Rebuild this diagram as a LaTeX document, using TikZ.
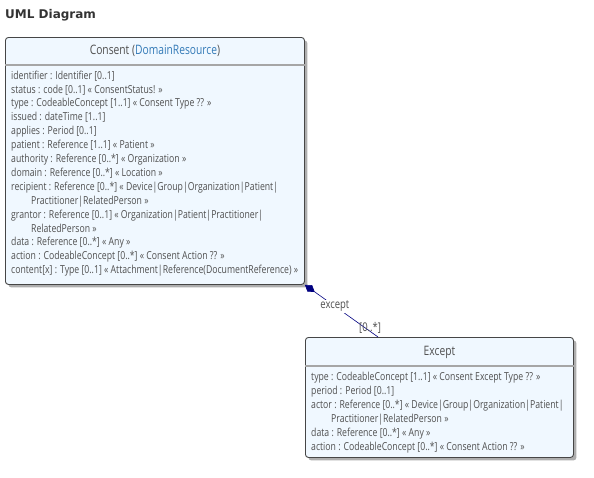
\documentclass[tikz,border=0pt]{standalone}
\usepackage{fontspec}
\setmainfont{Open Sans}[FakeStretch=0.79]
\newfontfamily\titlefont{DejaVu Sans}
\usetikzlibrary{arrows.meta,shadows,positioning}
\definecolor{boxfill}{RGB}{240,248,255}
\definecolor{boxline}{RGB}{70,70,70}
\definecolor{textgrey}{RGB}{80,80,80}
\definecolor{linkblue}{RGB}{51,122,183}
\definecolor{assocblue}{RGB}{0,0,128}

\tikzset{
  classbox/.style={draw=boxline, fill=boxfill, rounded corners=3pt, line width=0.9pt,
    drop shadow={shadow xshift=3pt, shadow yshift=-3pt, opacity=0.45, fill=black!70},
    anchor=north west, inner sep=0pt},
  classhead/.style={font=\fontsize{13}{15}\selectfont, text=textgrey, inner sep=0pt},
  attrs/.style={align=left, anchor=north west, inner sep=0pt,
    font=\fontsize{11}{13.9}\selectfont, text=textgrey},
  sepline/.style={draw=black!35, line width=1.2pt},
  assoc/.style={draw=assocblue, line width=0.6pt},
  rolelabel/.style={font=\fontsize{12}{14}\selectfont, text=textgrey, inner sep=1pt},
}

\begin{document}
\begin{tikzpicture}[x=1pt,y=-1pt]
\useasboundingbox (0,0) rectangle (594,477);

\node[anchor=base west, inner sep=0pt, font=\titlefont\bfseries\fontsize{12}{14}\selectfont, text=black!80] (title) at (5,18) {UML Diagram};

% Consent
\node[classbox, minimum width=299pt, minimum height=247pt] (consent) at (5,37) {};
\node[classhead] (consenthead) at ([yshift=-14pt]consent.north) {Consent (\textcolor{linkblue}{DomainResource})};
\draw[sepline] ([yshift=-28pt]consent.north west) -- ([yshift=-28pt]consent.north east);
\node[attrs] (consentattrs) at ([xshift=6pt,yshift=-33.5pt]consent.north west) {%
identifier : Identifier [0..1]\\
status : code [0..1] « ConsentStatus! »\\
type : CodeableConcept [1..1] « Consent Type ?? »\\
issued : dateTime [1..1]\\
applies : Period [0..1]\\
patient : Reference [1..1] « Patient »\\
authority : Reference [0..*] « Organization »\\
domain : Reference [0..*] « Location »\\
recipient : Reference [0..*] « Device|Group|Organization|Patient|\\
\hspace*{20pt}Practitioner|RelatedPerson »\\
grantor : Reference [0..1] « Organization|Patient|Practitioner|\\
\hspace*{20pt}RelatedPerson »\\
data : Reference [0..*] « Any »\\
action : CodeableConcept [0..*] « Consent Action ?? »\\
content[x] : Type [0..1] « Attachment|Reference(DocumentReference) »};

% Except
\node[classbox, minimum width=268pt, minimum height=120pt] (except) at (305,337) {};
\node[classhead] (excepthead) at ([yshift=-15pt]except.north) {Except};
\draw[sepline] ([yshift=-29pt]except.north west) -- ([yshift=-29pt]except.north east);
\node[attrs] (exceptattrs) at ([xshift=6pt,yshift=-35pt]except.north west) {%
type : CodeableConcept [1..1] « Consent Except Type ?? »\\
period : Period [0..1]\\
actor : Reference [0..*] « Device|Group|Organization|Patient|\\
\hspace*{20pt}Practitioner|RelatedPerson »\\
data : Reference [0..*] « Any »\\
action : CodeableConcept [0..*] « Consent Action ?? »};

\coordinate (exceptend) at ([xshift=73pt]except.north west);
\draw[assoc, {Diamond[length=12pt,width=8pt]}-] (consent.south east) -- (exceptend)
  node[rolelabel, fill=white, pos=0.41] (rolename) {except}
  node[rolelabel, anchor=west, pos=0.82, xshift=-7pt] (rolecard) {[0..*]};
\end{tikzpicture}
\end{document}
